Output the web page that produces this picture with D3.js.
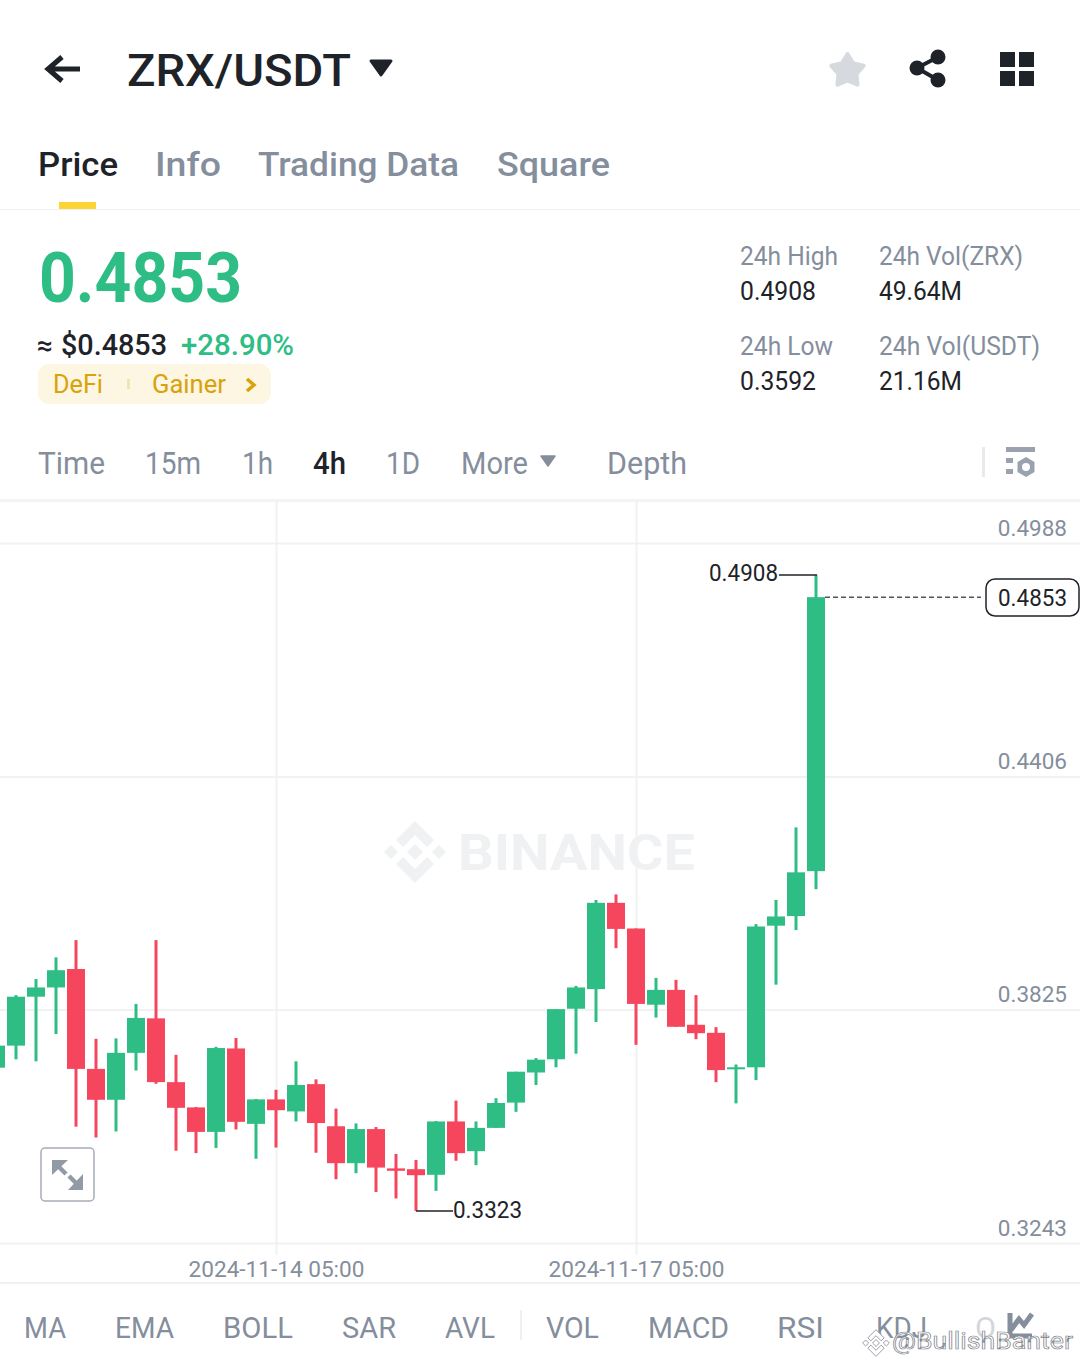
<!DOCTYPE html>
<html>
  <head>
    <meta charset="utf-8" />
    <script src="https://cdn.jsdelivr.net/npm/d3@7"></script>
    <style>
      body { margin: 0; background: #fff; }
      svg { display: block; }
      text { font-family: Roboto, sans-serif; }
    </style>
  </head>
  <body>
    <svg id="mySVG" width="1080" height="1363"></svg>
    <script>
      // candle data, one entry per 4h bar
      var opens = [.3680, .3735, .3857, .3880, .3926, .3677, .3600, .3717, .3803, .3644, .3581, .3520, .3728, .3540, .3601, .3571, .3639, .3534, .3442, .3527, .3429, .3427, .3413, .3546, .3472, .3530, .3593, .3668, .3701, .3827, .3876, .4091, .4027, .3837, .3874, .3787, .3767, .3676, .3681, .4034, .4058, .4170];
      var highs = [.3736, .3861, .3901, .3955, .3998, .3752, .3753, .3839, .3998, .3712, .3582, .3732, .3754, .3602, .3625, .3696, .3651, .3578, .3541, .3532, .3465, .3450, .3547, .3598, .3546, .3604, .3670, .3704, .3826, .3884, .4098, .4112, .4027, .3904, .3899, .3861, .3781, .3688, .4038, .4098, .4279, .4908];
      var lows = [.3680, .3701, .3696, .3764, .3533, .3506, .3521, .3673, .3640, .3473, .3467, .3480, .3526, .3453, .3481, .3546, .3468, .3402, .3417, .3370, .3354, .3323, .3373, .3448, .3437, .3530, .3570, .3637, .3681, .3715, .3794, .3978, .3737, .3805, .3782, .3751, .3644, .3591, .3649, .3887, .4023, .4125];
      var closes = [.3735, .3857, .3880, .3923, .3677, .3600, .3717, .3804, .3644, .3580, .3520, .3729, .3545, .3601, .3574, .3637, .3542, .3442, .3527, .3431, .3423, .3412, .3546, .3467, .3530, .3592, .3670, .3700, .3826, .3880, .4091, .4026, .3839, .3874, .3782, .3766, .3674, .3681, .4032, .4057, .4167, .4853];

      var priceTicks = [0.4988, 0.4406, 0.3825, 0.3243];
      var timeTicks = [14, 32]; // candle index of each date label
      var timeLabels = ['2024-11-14 05:00', '2024-11-17 05:00'];
      var lastPrice = 0.4853;
      var highMark = 0.4908;
      var lowMark = 0.3323;

      var green = '#2ebd85';
      var red = '#f6465d';
      var dark = '#1e2329';
      var gray = '#848e9c';
      var gridColor = '#f1f2f3';

      var svg = d3.select('svg');

      var sy = d3.scaleLinear().domain([0.3243, 0.4988]).range([1243, 543]);
      var sx = d3.scaleLinear().domain([0, 41]).range([-4, 816]);

      // helper, text squeezed to the width measured on the picture
      function label(parent, x, y, str, size, color, width, weight) {
        var t = parent.append('text')
          .attr('x', x - 1)
          .attr('y', y)
          .attr('font-size', size)
          .attr('font-weight', weight || 400)
          .attr('fill', color)
          .text(str);
        if (width) {
          t.attr('textLength', width + 1).attr('lengthAdjust', 'spacingAndGlyphs');
        }
        return t;
      }

      /* header */
      var head = svg.append('g');
      head.append('path')
        .attr('d', 'M80 69H49M62 57L48 69L62 81')
        .attr('fill', 'none')
        .attr('stroke', dark)
        .attr('stroke-width', 5);
      label(head, 128, 86, 'ZRX/USDT', 45, dark, 223, 500);
      head.append('path').attr('d', 'M371 61H391L381 75Z').attr('fill', dark).attr('stroke', dark).attr('stroke-linejoin', 'round').attr('stroke-width', 3);

      var starPts = [];
      for (var i = 0; i < 10; i++) {
        var r = i % 2 == 0 ? 17 : 9.5;
        var a = (i * Math.PI) / 5;
        starPts.push([847.5 + r * Math.sin(a), 71 - r * Math.cos(a)]);
      }
      head.append('polygon')
        .attr('points', starPts.join(' '))
        .attr('fill', '#d6d9dd')
        .attr('stroke', '#d6d9dd')
        .attr('stroke-width', 4)
        .attr('stroke-linejoin', 'round');

      head.append('path').attr('d', 'M938 57L917 68L938 80').attr('fill', 'none').attr('stroke', dark).attr('stroke-width', 4);
      head.append('circle').attr('cx', 938).attr('cy', 57).attr('r', 7.5).attr('fill', dark);
      head.append('circle').attr('cx', 917).attr('cy', 68).attr('r', 7.5).attr('fill', dark);
      head.append('circle').attr('cx', 938).attr('cy', 80).attr('r', 7.5).attr('fill', dark);
      [[1000, 52], [1019, 52], [1000, 71], [1019, 71]].forEach(function(p) {
        head.append('rect').attr('x', p[0]).attr('y', p[1]).attr('width', 15).attr('height', 15).attr('fill', dark);
      });

      /* tabs */
      label(head, 39, 176, 'Price', 33, dark, 79, 500);
      label(head, 156, 176, 'Info', 33, gray, 65, 500);
      label(head, 259, 176, 'Trading Data', 33, gray, 200, 500);
      label(head, 498, 176, 'Square', 33, gray, 112, 500);
      head.append('rect').attr('x', 59).attr('y', 202).attr('width', 37).attr('height', 7).attr('fill', '#fcd535');
      head.append('rect').attr('x', 0).attr('y', 209).attr('width', 1080).attr('height', 1).attr('fill', '#eff0f2');

      /* price block */
      label(head, 40, 302, '0.4853', 70, green, 202, 700);
      label(head, 38, 355, '≈', 28, dark, 15, 500);
      label(head, 62, 355, '$0.4853', 29, dark, 105, 500);
      label(head, 182, 355, '+28.90%', 29, green, 112, 500);
      head.append('rect').attr('x', 38).attr('y', 364).attr('width', 233).attr('height', 40).attr('rx', 11).attr('fill', '#fdf6e2');
      label(head, 54, 393, 'DeFi', 25, '#d9a20b', 49);
      head.append('rect').attr('x', 127).attr('y', 379).attr('width', 3).attr('height', 10).attr('fill', '#f3e3ae');
      label(head, 153, 393, 'Gainer', 25, '#d9a20b', 73);
      head.append('path').attr('d', 'M247 379L254 385L247 391').attr('fill', 'none').attr('stroke', '#d9a20b').attr('stroke-width', 3.5);

      label(head, 741, 265, '24h High', 26, gray, 97);
      label(head, 880, 265, '24h Vol(ZRX)', 26, gray, 143);
      label(head, 741, 300, '0.4908', 26, dark, 75);
      label(head, 880, 300, '49.64M', 26, dark, 82);
      label(head, 741, 355, '24h Low', 26, gray, 92);
      label(head, 880, 355, '24h Vol(USDT)', 26, gray, 160);
      label(head, 741, 390, '0.3592', 26, dark, 75);
      label(head, 880, 390, '21.16M', 26, dark, 82);

      /* interval row */
      label(head, 39, 474, 'Time', 31, gray, 66);
      label(head, 146, 474, '15m', 31, gray, 55);
      label(head, 243, 474, '1h', 31, gray, 30);
      label(head, 314, 474, '4h', 31, dark, 32, 500);
      label(head, 387, 474, '1D', 31, gray, 33);
      label(head, 462, 474, 'More', 31, gray, 66);
      head.append('path').attr('d', 'M541 456H555L548 466Z').attr('fill', gray).attr('stroke', gray).attr('stroke-linejoin', 'round').attr('stroke-width', 1.5);
      label(head, 608, 474, 'Depth', 31, gray, 79);
      head.append('rect').attr('x', 982).attr('y', 447).attr('width', 3).attr('height', 30).attr('fill', '#e8eaee');
      head.append('rect').attr('x', 1006).attr('y', 447).attr('width', 29).attr('height', 5).attr('fill', '#9aa2af');
      head.append('rect').attr('x', 1006).attr('y', 458).attr('width', 7).attr('height', 5).attr('fill', '#9aa2af');
      head.append('rect').attr('x', 1006).attr('y', 469).attr('width', 7).attr('height', 5).attr('fill', '#9aa2af');
      head.append('polygon').attr('points', '1026,457 1034.5,462 1034.5,472 1026,477 1017.5,472 1017.5,462').attr('fill', '#9aa2af');
      head.append('circle').attr('cx', 1026).attr('cy', 467).attr('r', 4).attr('fill', '#fff');
      head.append('rect').attr('x', 0).attr('y', 499).attr('width', 1080).attr('height', 3).attr('fill', '#f3f4f6');

      /* binance watermark, sits under the grid */
      var chevrons = ['0,-31 19,-12 12,-5 0,-17 -12,-5 -19,-12', '0,31 19,12 12,5 0,17 -12,5 -19,12', '0,-8 8,0 0,8 -8,0', '-24,-7 -17,0 -24,7 -31,0', '24,-7 31,0 24,7 17,0'];
      var mark = svg.append('g').attr('transform', 'translate(415,852)');
      mark.selectAll('polygon').data(chevrons).join('polygon').attr('points', function(d) { return d; }).attr('fill', '#eff1f2');
      label(svg, 459, 870, 'BINANCE', 50, '#eff1f2', 236, 700);

      /* axes */
      var yaxis = d3.axisRight(sy).tickValues(priceTicks).tickSize(1080).tickFormat(d3.format('.4f'));
      var yg = svg.append('g').attr('class', 'yaxis').call(yaxis);
      yg.select('.domain').remove();
      yg.selectAll('line').attr('stroke', gridColor).attr('stroke-width', 2);
      yg.selectAll('text')
        .attr('x', 1067)
        .attr('dy', -8)
        .attr('text-anchor', 'end')
        .attr('font-size', 22.5)
        .attr('font-family', 'Roboto, sans-serif')
        .attr('fill', gray);

      var xaxis = d3.axisBottom(sx).tickValues(timeTicks).tickSize(755).tickFormat(function(d, i) { return timeLabels[i]; });
      var xg = svg.append('g').attr('class', 'xaxis').attr('transform', 'translate(0,500)').call(xaxis);
      xg.select('.domain').remove();
      xg.selectAll('line').attr('stroke', gridColor).attr('stroke-width', 2);
      xg.selectAll('text')
        .attr('y', 777)
        .attr('dy', 0)
        .attr('font-size', 22.6)
        .attr('font-family', 'Roboto, sans-serif')
        .attr('fill', gray);
      svg.append('rect').attr('x', 0).attr('y', 1282).attr('width', 1080).attr('height', 2).attr('fill', '#eff0f2');

      /* candles */
      var wickW = 3;
      var bodyW = 18;
      function candleColor(i) {
        return closes[i] >= opens[i] ? green : red;
      }
      svg.append('g').selectAll('rect').data(opens).join('rect')
        .attr('x', function(d, i) { return sx(i) - wickW / 2; })
        .attr('y', function(d, i) { return sy(highs[i]); })
        .attr('width', wickW)
        .attr('height', function(d, i) { return sy(lows[i]) - sy(highs[i]); })
        .attr('fill', function(d, i) { return candleColor(i); });
      svg.append('g').selectAll('rect').data(opens).join('rect')
        .attr('x', function(d, i) { return sx(i) - bodyW / 2; })
        .attr('y', function(d, i) { return sy(Math.max(d, closes[i])); })
        .attr('width', bodyW)
        .attr('height', function(d, i) { return Math.max(2, Math.abs(sy(d) - sy(closes[i]))); })
        .attr('fill', function(d, i) { return candleColor(i); });

      /* high, low and last price marks */
      var hiX = sx(highs.indexOf(highMark));
      var loX = sx(lows.indexOf(lowMark));
      svg.append('line').attr('x1', hiX - 37).attr('x2', hiX + 1).attr('y1', sy(highMark)).attr('y2', sy(highMark)).attr('stroke', dark).attr('stroke-width', 1.5);
      label(svg, 710, sy(highMark) + 6, '0.4908', 23, dark, 68).attr('class', 'hi');
      svg.append('line').attr('x1', loX).attr('x2', loX + 37).attr('y1', sy(lowMark)).attr('y2', sy(lowMark)).attr('stroke', dark).attr('stroke-width', 1.5);
      label(svg, 454, sy(lowMark) + 7, '0.3323', 23, dark, 68);

      svg.append('line')
        .attr('x1', 825)
        .attr('x2', 981)
        .attr('y1', sy(lastPrice))
        .attr('y2', sy(lastPrice))
        .attr('stroke', '#50565e')
        .attr('stroke-width', 1.5)
        .attr('stroke-dasharray', '5,3');
      svg.append('rect').attr('x', 986).attr('y', 579).attr('width', 93).attr('height', 37).attr('rx', 9).attr('fill', '#fff').attr('stroke', dark).attr('stroke-width', 1.5);
      label(svg, 999, sy(lastPrice) + 9, '0.4853', 23, dark, 68);

      /* expand button */
      svg.append('rect').attr('x', 41).attr('y', 1148).attr('width', 53).attr('height', 53).attr('rx', 4).attr('fill', '#fff').attr('stroke', '#a6acb6').attr('stroke-width', 1.5);
      svg.append('path').attr('d', 'M52 1160H68L52 1175ZM83 1174V1190H68Z').attr('fill', '#929aa5');
      svg.append('path').attr('d', 'M58 1166L66 1174M69 1176L77 1184').attr('stroke', '#929aa5').attr('stroke-width', 4.5);

      /* indicator row */
      label(svg, 25, 1338, 'MA', 30, gray, 41);
      label(svg, 116, 1338, 'EMA', 30, gray, 58);
      label(svg, 224, 1338, 'BOLL', 30, gray, 69);
      label(svg, 343, 1338, 'SAR', 30, gray, 53);
      label(svg, 446, 1338, 'AVL', 30, gray, 49);
      svg.append('rect').attr('x', 520).attr('y', 1310).attr('width', 2).attr('height', 30).attr('fill', '#eff0f2');
      label(svg, 547, 1338, 'VOL', 30, gray, 52);
      label(svg, 649, 1338, 'MACD', 30, gray, 80);
      label(svg, 778, 1338, 'RSI', 30, gray, 46);
      label(svg, 877, 1338, 'KDJ', 30, gray, 50);
      label(svg, 976, 1338, 'O', 30, '#d3d6db', 20);
      svg.append('path').attr('d', 'M1010 1313V1336H1032M1011 1330L1019 1319L1024 1325L1032 1314').attr('fill', 'none').attr('stroke', gray).attr('stroke-width', 5);

      /* uploader tag, drawn last because it covers the row */
      var tag = svg.append('g').attr('transform', 'translate(876,1343) scale(0.43)');
      tag.selectAll('polygon').data(chevrons).join('polygon')
        .attr('points', function(d) { return d; })
        .attr('fill', '#fff')
        .attr('stroke', '#8a8f96')
        .attr('stroke-width', 2);
      label(svg, 893, 1349, '@BullishBanter', 24, '#fff', 180)
        .attr('stroke', '#7d828a')
        .attr('stroke-width', 0.7);
    </script>
  </body>
</html>
